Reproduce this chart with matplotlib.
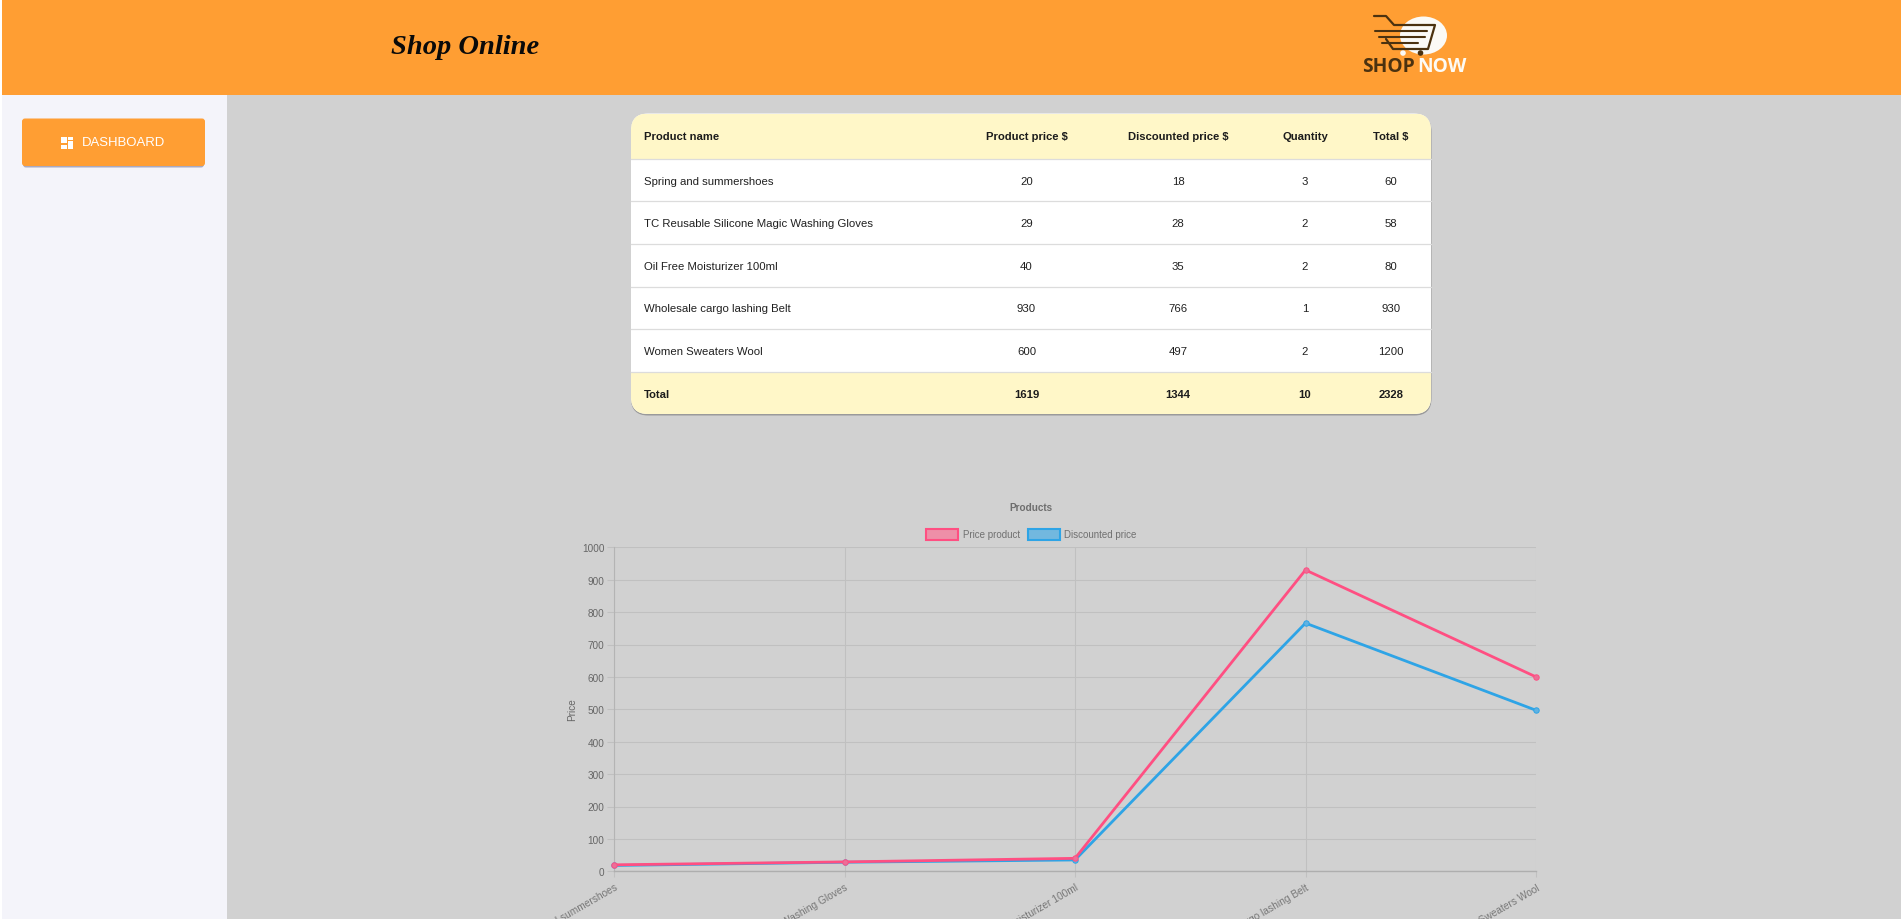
import matplotlib
matplotlib.use("Agg")
import matplotlib.pyplot as plt
from matplotlib.patches import Rectangle, FancyBboxPatch, Ellipse, Circle

W, H = 1901, 920

# ---- data ----
products = ["Spring and summershoes", "TC Reusable Silicone Magic Washing Gloves",
            "Oil Free Moisturizer 100ml", "Wholesale cargo lashing Belt", "Women Sweaters Wool"]
price = [20, 29, 40, 930, 600]
discounted = [18, 28, 35, 766, 497]
quantity = [3, 2, 2, 1, 2]
totals = [60, 58, 80, 930, 1200]
header_labels = ["Product name", "Product price $", "Discounted price $", "Quantity", "Total $"]
footer_labels = ["Total", "1619", "1344", "10", "2328"]
y_ticks = [0, 100, 200, 300, 400, 500, 600, 700, 800, 900, 1000]

ORANGE = "#ff9e33"
GREY = "#d1d1d1"
SIDE = "#f4f4fa"
CREAM = "#fff7c8"
PINK = "#ff4f82"
BLUE = "#2ea4e6"
SANS = ["Liberation Sans", "DejaVu Sans"]
plt.rcParams["font.family"] = SANS

fig = plt.figure(figsize=(W / 100, H / 100), dpi=100, facecolor=GREY)
page = fig.add_axes([0, 0, 1, 1], zorder=0)
page.set_xlim(0, W)
page.set_ylim(H, 0)
page.axis("off")

# page furniture
page.add_patch(Rectangle((0, 0), 2, H, fc="white", ec="none"))
page.add_patch(Rectangle((2, 95.5), 225, H - 95.5, fc=SIDE, ec="none"))
page.add_patch(Rectangle((2, 0), W, 95.5, fc=ORANGE, ec="none"))
page.text(391, 48, "Shop Online", fontsize=20.5, family=["Liberation Serif"], style="italic",
          weight="bold", color="#0a0a0a", va="center", ha="left")

# logo
DARK = "#4b3210"
page.add_patch(Ellipse((1423.5, 36.5), 47, 38, fc="#fbfaf6", ec="none"))
page.plot([1374, 1386, 1394, 1435, 1428, 1393, 1386], [17, 17, 26, 26, 50, 50, 40],
          color=DARK, lw=1.6, solid_capstyle="round")
for x0, x1, yy in [(1375, 1427, 32), (1379, 1425, 38), (1382, 1418, 44)]:
    page.plot([x0, x1], [yy, yy], color=DARK, lw=1.5, solid_capstyle="round")
page.add_patch(Circle((1403, 54), 2.8, fc="#fbfaf6", ec="none"))
page.add_patch(Circle((1420.5, 54), 2.8, fc=DARK, ec="none"))
page.text(1362.5, 66.5, "SHOP", fontsize=13.9, weight="bold", family=["Open Sans"], color=DARK, va="center", ha="left")
page.text(1417, 66.5, "NOW", fontsize=13.9, weight="bold", family=["Open Sans"], color="#fdfbf5", va="center", ha="left")

# dashboard button
page.add_patch(FancyBboxPatch((23, 121), 181, 47.5, boxstyle="round,pad=0,rounding_size=3",
                              fc="#a9a9c0", ec="none"))
page.add_patch(FancyBboxPatch((22, 119.5), 183, 47.5, boxstyle="round,pad=0,rounding_size=3",
                              fc=ORANGE, ec="none"))
for x, y, w, h in [(61, 137.5, 5.5, 6.7), (67.5, 137.5, 5.5, 3.5), (61, 145.5, 5.5, 4.2), (67.5, 142.2, 5.5, 7.5)]:
    page.add_patch(Rectangle((x, y), w, h, fc="white", ec="none"))
page.text(81.5, 143.5, "DASHBOARD", fontsize=9.45, color="white", va="center", ha="left")

# table card
L, R, T, B = 631, 1431, 114.5, 415
page.add_patch(FancyBboxPatch((L, T + 1), R - L + 0.5, B - T + 0.5, boxstyle="round,pad=0,rounding_size=17",
                              fc="#9a9a9a", ec="none"))
card = FancyBboxPatch((L, T), R - L, B - T, boxstyle="round,pad=0,rounding_size=17", fc="white", ec="none")
page.add_patch(card)
for y0, y1 in [(T, 160), (373, B)]:
    r = Rectangle((L, y0), R - L, y1 - y0, fc=CREAM, ec="none")
    page.add_patch(r)
    r.set_clip_path(card)
for y in [160, 202, 244.8, 287.8, 330, 373]:
    page.plot([L, R], [y, y], color="#dcdcdc", lw=0.9)

col_x = [643.5, 1026.5, 1178, 1305, 1391]
row_y = [185, 227, 270, 312, 355]
kw = dict(fontsize=8.2, va="baseline", color="#202020")
for i, lab in enumerate(header_labels):
    page.text(col_x[i], 140, lab, ha="left" if i == 0 else "center", weight="bold", color="#1c1c1c", fontsize=8.15, va="baseline")
    page.text(col_x[i], 398, footer_labels[i], ha="left" if i == 0 else "center", weight="bold", color="#1c1c1c", fontsize=8.15, va="baseline")
for j, y in enumerate(row_y):
    page.text(col_x[0], y, products[j], ha="left", **kw)
    for i, v in enumerate([price[j], discounted[j], quantity[j], totals[j]]):
        page.text(col_x[i + 1], y, str(v), ha="center", **kw)

# chart
AX_L, AX_R, AX_T, AX_B = 614, 1536, 548.3, 872.3
ax = fig.add_axes([AX_L / W, 1 - AX_B / H, (AX_R - AX_L) / W, (AX_B - AX_T) / H], zorder=2)
ax.patch.set_alpha(0)
xs = list(range(len(products)))
ax.plot(xs, discounted, color=BLUE, lw=2.0, marker="o", ms=3.9, mfc="#5fb2e2", mec=BLUE, mew=0.7,
        clip_on=False, zorder=3, label="Discounted price")
ax.plot(xs, price, color=PINK, lw=2.0, marker="o", ms=3.9, mfc="#ec6f97", mec=PINK, mew=0.7,
        clip_on=False, zorder=4, label="Price product")
ax.set_xlim(0, len(products) - 1)
ax.set_ylim(0, 1000)
ax.set_yticks(y_ticks)
ax.set_xticks(xs)
ax.set_xticklabels(products, rotation=30, ha="right", va="top", rotation_mode="anchor",
                   fontsize=7.3, color="#777777")
ax.tick_params(axis="y", labelsize=7.2, labelcolor="#666666", color="#c0c0c0", length=5.3, width=0.75, pad=1.5)
ax.tick_params(axis="x", color="#c0c0c0", length=4.6, width=0.75, pad=3)
ax.grid(True, color="#c0c0c0", lw=0.75)
ax.set_axisbelow(True)
for s in ["top", "right"]:
    ax.spines[s].set_visible(False)
ax.spines["left"].set_color("#b4b4b4")
ax.spines["left"].set_linewidth(0.8)
ax.spines["bottom"].set_color("#aeaeae")
ax.spines["bottom"].set_linewidth(1.0)

page.text(1030.8, 507.7, "Products", fontsize=7.2, weight="bold", color="#6e6e6e", ha="center", va="center")
page.text(571.7, 710, "Price", fontsize=7.2, color="#666666", rotation=90, ha="center", va="center")
page.add_patch(Rectangle((926, 530), 32, 10.5, fc="#ee8fa8", ec=PINK, lw=1.5))
page.text(963, 535, "Price product", fontsize=7, color="#707070", ha="left", va="center")
page.add_patch(Rectangle((1027.5, 530), 32, 10.5, fc="#72b8df", ec=BLUE, lw=1.5))
page.text(1064, 535, "Discounted price", fontsize=7, color="#707070", ha="left", va="center")

fig.savefig("out.png", dpi=100, facecolor=GREY)
